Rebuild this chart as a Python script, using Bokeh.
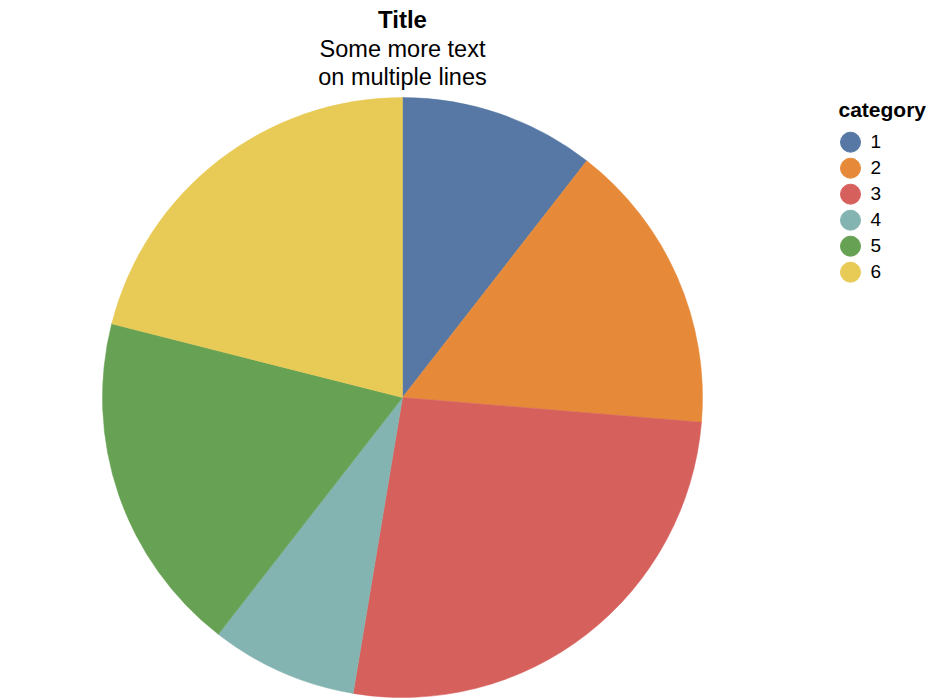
import math
from bokeh.plotting import figure
from bokeh.models import ColumnDataSource, Range1d
from bokeh.core.properties import value
from bokeh.embed import file_html
from bokeh.resources import INLINE

categories = ["1", "2", "3", "4", "5", "6"]
values = [4, 6, 10, 3, 7, 8]
colors = ["#5778a4", "#e68a3a", "#d6605c", "#84b4b1", "#67a153", "#e8ca56"]
title = "Title"
subtitle = ["Some more text", "on multiple lines"]
legend_title = "category"

W, H = 928, 700
FONT = "Liberation Sans"
TEXT_SHIFT = 8  # svg baseline correction

p = figure(width=W, height=H, output_backend="svg", toolbar_location=None,
           x_range=Range1d(0, W), y_range=Range1d(0, H), min_border=0)
p.axis.visible = False
p.grid.visible = False
p.outline_line_color = None
p.background_fill_color = "white"
p.border_fill_color = "white"

def fx(ix):
    return ix

def fy(iy):
    return H - iy

def ty(iy):
    return H - (iy - TEXT_SHIFT)

# pie wedges: start at 12 o'clock, clockwise
total = sum(values)
starts, ends = [], []
acc = 0.0
for v in values:
    starts.append(math.pi / 2 - 2 * math.pi * acc / total)
    acc += v
    ends.append(math.pi / 2 - 2 * math.pi * acc / total)

src = ColumnDataSource(dict(cat=categories, val=values, color=colors,
                            start=starts, end=ends))
cx, cy, r = fx(402), fy(397), 300
p.wedge(x=cx, y=cy, radius=r, start_angle="start", end_angle="end",
        direction="clock", fill_color="color", line_color="color",
        line_width=0.5, source=src)

# title
p.text(x=[fx(402)], y=[ty(27)], text=[title], text_font=value(FONT),
       text_font_size="24px", text_font_style="bold", text_align="center",
       text_baseline="alphabetic", text_color="black")
p.text(x=[fx(402)] * 2, y=[ty(56), ty(84)], text=subtitle, text_font=value(FONT),
       text_font_size="23.5px", text_align="center",
       text_baseline="alphabetic", text_color="black")

# legend
p.text(x=[fx(838)], y=[ty(117)], text=[legend_title], text_font=value(FONT),
       text_font_size="21px", text_font_style="bold", text_align="left",
       text_baseline="alphabetic", text_color="black")
row_y = [141.7 + 26 * i for i in range(len(categories))]
lsrc = ColumnDataSource(dict(x=[fx(850)] * len(categories),
                             y=[fy(v) for v in row_y],
                             ty=[ty(v + 7) for v in row_y],
                             tx=[fx(870)] * len(categories),
                             cat=categories, color=colors))
p.scatter(x="x", y="y", size=20, marker="circle", fill_color="color",
          line_color="color", source=lsrc)
p.text(x="tx", y="ty", text="cat", text_font=value(FONT), text_font_size="19px",
       text_align="left", text_baseline="alphabetic", text_color="black",
       source=lsrc)

open("out.html", "w").write(file_html(p, INLINE))
